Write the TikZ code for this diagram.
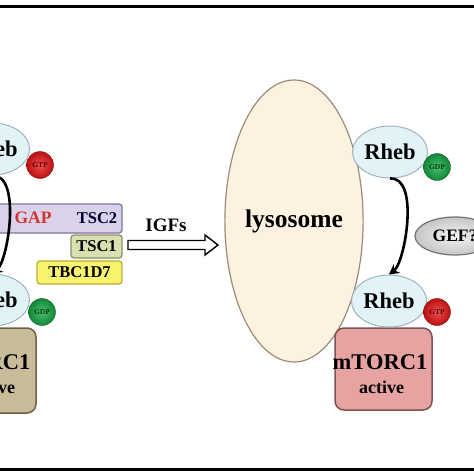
\documentclass[tikz,border=0pt]{standalone}
\usepackage{fontspec}
\setmainfont{Liberation Serif}
\usetikzlibrary{shapes.geometric,arrows.meta}
\definecolor{rhebfill}{HTML}{E2F3F8}
\definecolor{rhebline}{HTML}{9DB2C2}
\definecolor{lysofill}{HTML}{FDF2DF}
\definecolor{lysoline}{HTML}{9B8B78}
\definecolor{gtpred}{HTML}{E81414}
\definecolor{gdpgreen}{HTML}{14A844}
\definecolor{tscfill}{HTML}{D9D2E9}
\definecolor{tscline}{HTML}{8373A3}
\definecolor{tsconefill}{HTML}{D8E0B2}
\definecolor{tsconeline}{HTML}{8F9062}
\definecolor{tbcfill}{HTML}{F7F36E}
\definecolor{tbcline}{HTML}{BDAE35}
\definecolor{offfill}{HTML}{C9BD99}
\definecolor{offline}{HTML}{6F6045}
\definecolor{onfill}{HTML}{E7A2A2}
\definecolor{online}{HTML}{7E5252}
\definecolor{gaptext}{HTML}{D03434}
\begin{document}
\begin{tikzpicture}[x=1pt,y=-1pt,
    rheb/.style={ellipse,draw=rhebline,line width=1pt,fill=rhebfill,
      minimum width=75pt,minimum height=52pt,inner sep=0pt,
      font=\fontsize{22.5}{26}\selectfont\bfseries},
    ball/.style={circle,minimum size=27pt,inner sep=0pt,draw=#1!60!black,
      inner color=#1!75!white,outer color=#1!80!black,
      font=\fontsize{7.5}{8}\selectfont\bfseries},
    box/.style={rectangle,rounded corners=3pt,line width=1.3pt,inner sep=0pt,
      font=\fontsize{16.5}{19}\selectfont\bfseries},
    torc/.style={rectangle,rounded corners=9pt,line width=1.5pt,minimum width=97pt},
    big/.style={font=\fontsize{22.5}{26}\selectfont\bfseries},
    small/.style={font=\fontsize{18}{20}\selectfont\bfseries},
    flip/.style={line width=2.6pt,-{Stealth[length=10pt,width=11pt]}}]
  % frame
  \useasboundingbox (0,0) rectangle (474,474);
  \draw[line width=3pt] (0,6) -- (474,6);
  \draw[line width=3pt] (0,469) -- (474,469);
  % inactive side
  \node[box,fill=tscfill,draw=tscline,minimum width=162pt,minimum height=29pt]
    (tsc2) at (41,218.5) {};
  \node[font=\fontsize{17.5}{20}\selectfont\bfseries,text=gaptext] (gap) at (33,218) {GAP};
  \node[font=\fontsize{16.5}{19}\selectfont\bfseries,text=black!80!blue] (tsctwo) at (97,218) {TSC2};
  \node[box,fill=tsconefill,draw=tsconeline,minimum width=51pt,minimum height=23pt]
    (tsc1) at (96.5,246.5) {TSC1};
  \node[box,fill=tbcfill,draw=tbcline,minimum width=85pt,minimum height=23pt]
    (tbc) at (79.5,272.5) {TBC1D7};
  \node[rheb] (rhebTL) at (-8,149) {Rheb};
  \node[ball=gtpred,text=red!35!black] (gtpTL) at (40,165) {GTP};
  \node[torc,fill=offfill,draw=offline,minimum height=85pt] (torcL) at (-12.5,370.5) {};
  \node[big] (torcLa) at (-17,362) {mTORC1};
  \node[small] (torcLb) at (-15,387) {inactive};
  \node[rheb] (rhebBL) at (-8,300) {Rheb};
  \node[ball=gdpgreen,text=green!25!black] (gdpBL) at (42,312) {GDP};
  \draw[flip] (rhebTL.south) .. controls +(30,-2) and +(16,-12) .. (rhebBL.north);
  % IGFs
  \coordinate (igfA) at (128,245);
  \coordinate (igfB) at (218,245);
  \draw[line width=1.4pt,fill=white,line join=miter] (igfA) ++(0,-4.5) -- ++(77,0)
    -- ++(0,-5.5) -- (igfB) -- ++(-13,10) -- ++(0,-5.5) -- ++(-77,0) -- cycle;
  \node[font=\fontsize{19}{22}\selectfont\bfseries] (igf) at (166,225) {IGFs};
  % active side
  \node[ellipse,draw=lysoline,line width=1.2pt,fill=lysofill,minimum width=126pt,
    minimum height=282pt,inner sep=0pt,font=\fontsize{25.5}{28}\selectfont\bfseries]
    (lyso) at (294,221) {lysosome};
  \node[ellipse,draw=gray!90!black,line width=1.2pt,inner color=gray!8,outer color=gray!45,
    minimum width=80pt,minimum height=38pt,inner sep=0pt,
    font=\fontsize{17.5}{20}\selectfont\bfseries] (gef) at (455,236) {GEF?};
  \node[rheb] (rhebTR) at (390,152) {Rheb};
  \node[ball=gdpgreen,text=green!25!black] (gdpTR) at (437,167) {GDP};
  \node[torc,fill=onfill,draw=online,minimum height=82pt] (torcR) at (383.5,369) {};
  \node[big] (torcRa) at (380,362) {mTORC1};
  \node[small] (torcRb) at (381.5,387) {active};
  \node[rheb] (rhebBR) at (389,301) {Rheb};
  \node[ball=gtpred,text=red!35!black] (gtpBR) at (437,312) {GTP};
  \draw[flip] (rhebTR.south) .. controls +(30,-2) and +(16,-12) .. (rhebBR.north);
\end{tikzpicture}
\end{document}
